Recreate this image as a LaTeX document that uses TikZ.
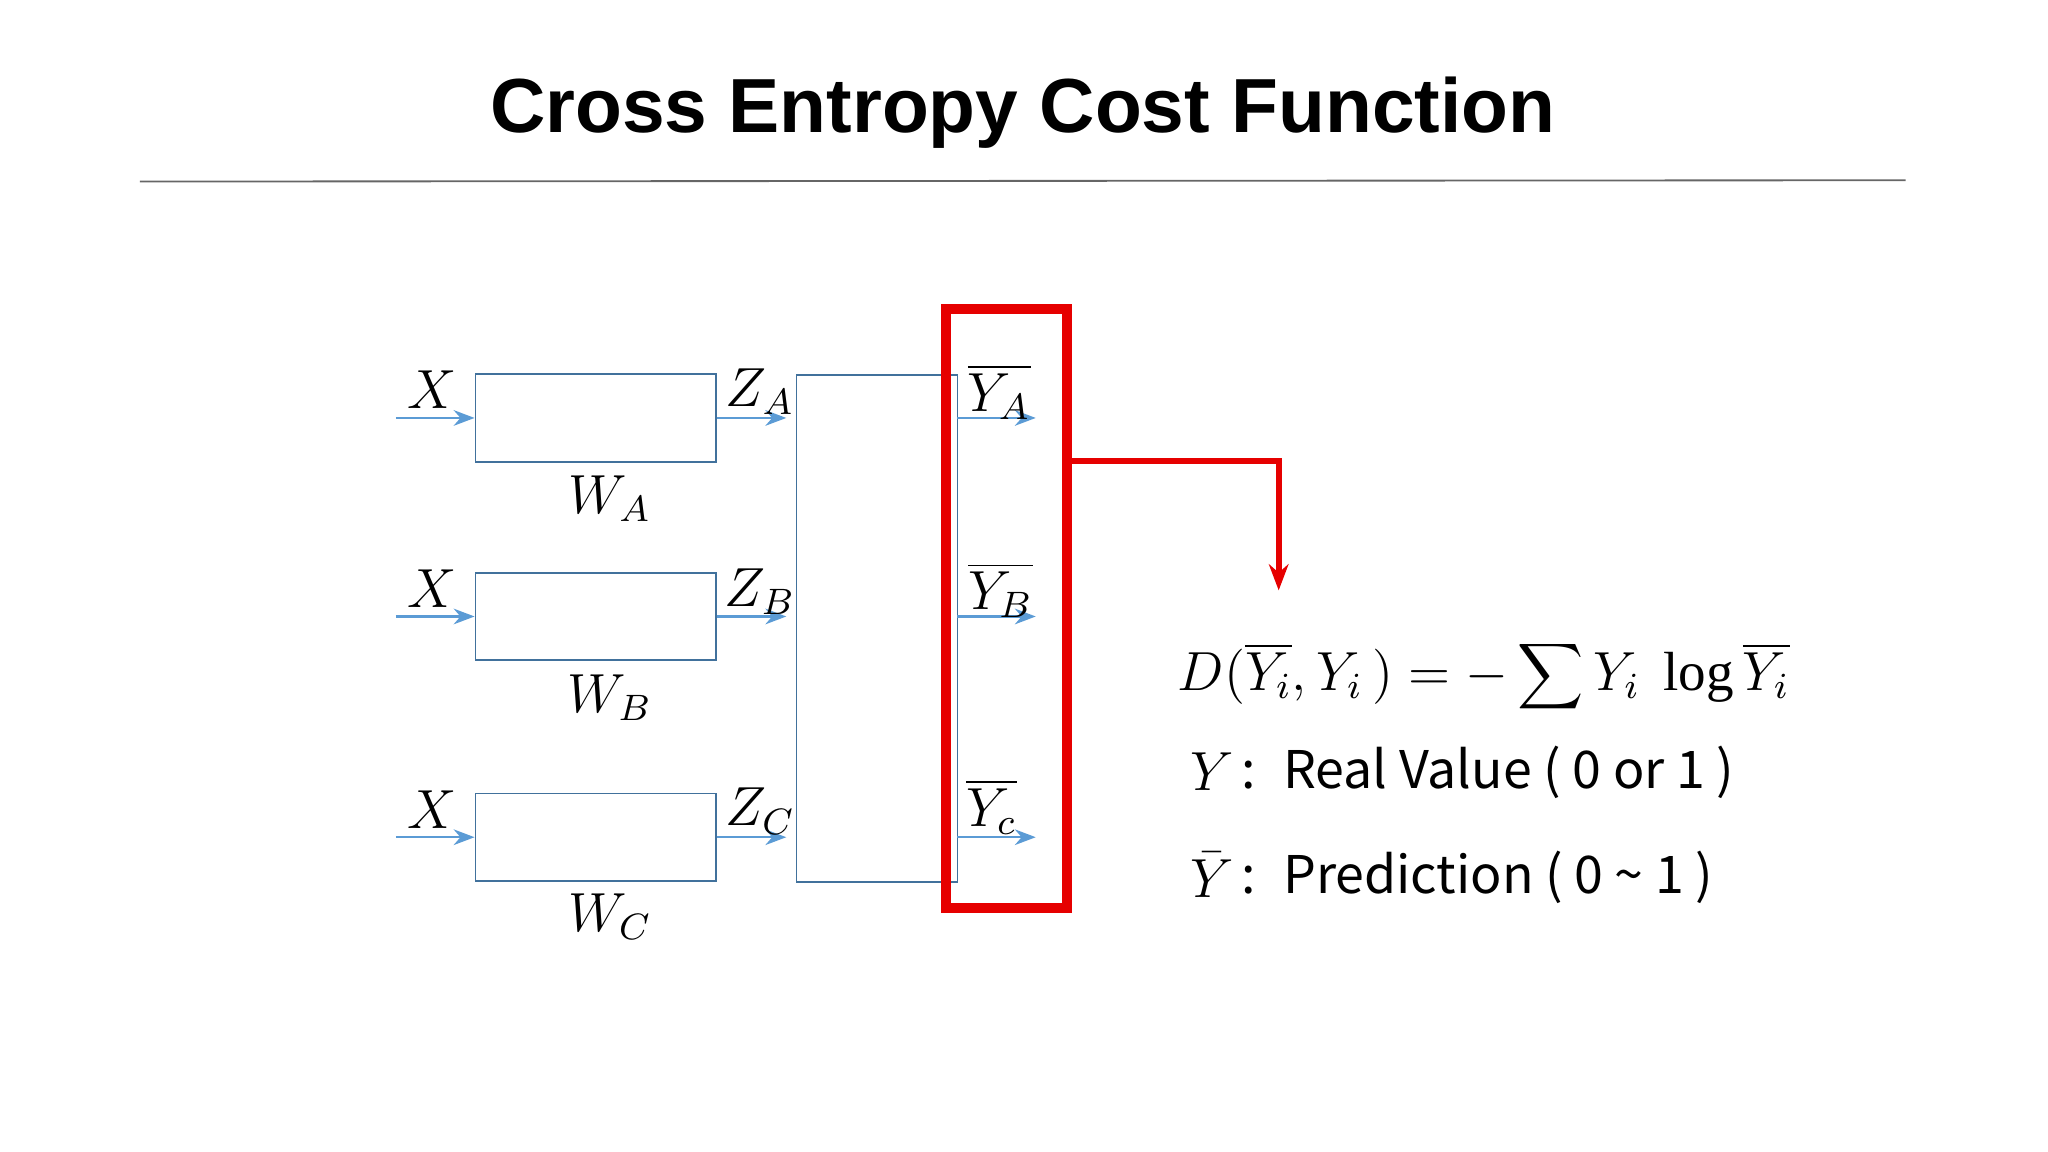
\documentclass[tikz,border=0pt]{standalone}
\usepackage{fontspec}
\setmainfont{Liberation Serif}
\newfontfamily\titlefont{Liberation Sans}
\newfontfamily\txtfont{Noto Sans CJK KR}
\usetikzlibrary{arrows.meta}
\definecolor{bx}{RGB}{65,113,156}
\definecolor{ar}{RGB}{91,155,213}
\definecolor{rd}{RGB}{230,0,0}
\tikzset{
 box/.style={draw=bx,line width=0.35pt},
 arr/.style={draw=ar,line width=0.5pt,-{Stealth[length=1.6mm,width=1.2mm]}},
 lab/.style={font=\fontsize{11.5}{11.5}\selectfont,inner sep=0pt},
 txt/.style={font=\txtfont\fontsize{11.3}{11.3}\selectfont,inner sep=0pt,anchor=west}
}
\begin{document}
\begin{tikzpicture}[x=0.01cm,y=-0.01cm]
\useasboundingbox (0,0) rectangle (1568,882);
\node[font=\titlefont\bfseries\fontsize{16.7}{16.7}\selectfont] (title) at (783,86) {Cross Entropy Cost Function};
\coordinate (l1) at (107,139); \coordinate (l2) at (1459,138);
\draw[gray!80!black,line width=0.4pt] (l1) -- (l2);
\foreach \n/\y/\L in {A/320/A,B/472/B,C/641/C}{
  \node[box,minimum width=1.84cm,minimum height=0.67cm,anchor=center] (w\n) at (456,\y) {};
  \coordinate (in\n) at (303,\y);
  \coordinate (z\n) at (602,\y);
  \draw[arr] (in\n) -- (w\n.west);
  \draw[arr] (w\n.east) -- (z\n);
}
\node[box,minimum width=1.23cm,minimum height=3.88cm] (s) at (671.5,481) {};
\foreach \n/\y in {A/320,B/472,C/641}{
  \coordinate (sy\n) at (733,\y); \coordinate (o\n) at (793,\y);
  \draw[arr] (sy\n) -- (o\n);
}
\node[lab] (xA) at (331,298) {$X$};
\node[lab] (xB) at (331,451) {$X$};
\node[lab] (xC) at (331,620) {$X$};
\node[lab] (zA) at (582,300) {$Z_A$};
\node[lab] (zB) at (582,453) {$Z_B$};
\node[lab] (zC) at (582,621) {$Z_C$};
\node[lab] (wlA) at (467,382) {$W_A$};
\node[lab] (wlB) at (467,534) {$W_B$};
\node[lab] (wlC) at (467,702) {$W_C$};
\node[lab] (yA) at (765,300) {$\overline{Y_A}$};
\node[lab] (yB) at (766,452) {$\overline{Y_B}$};
\node[lab] (yC) at (759,618) {$\overline{Y_c}$};
\node[draw=rd,line width=2.2pt,minimum width=0.93cm,minimum height=4.58cm,inner sep=0pt] (red) at (770.5,466) {};
\coordinate (bend) at (979,353); \coordinate (tip) at (979,452);
\draw[draw=rd,line width=1.3pt,-{Stealth[length=2mm,width=1.5mm]}] (red.east |- bend) -- (bend) -- (tip);
\node[lab,font=\fontsize{12}{12}\selectfont] (eq) at (1136,518) {$D\big(\overline{Y_i},Y_i\,\big)=-\displaystyle\sum Y_i\ \log\overline{Y_i}$};
\node[lab,anchor=west] (t1y) at (911,591) {$Y$};
\node[txt] (t1) at (950,591) {: \ Real Value ( 0 or 1 )};
\node[lab,anchor=west] (t2y) at (911,670) {$\bar{Y}$};
\node[txt] (t2) at (950,672) {: \ Prediction ( 0 \char"7E\ 1 )};
\end{tikzpicture}
\end{document}
